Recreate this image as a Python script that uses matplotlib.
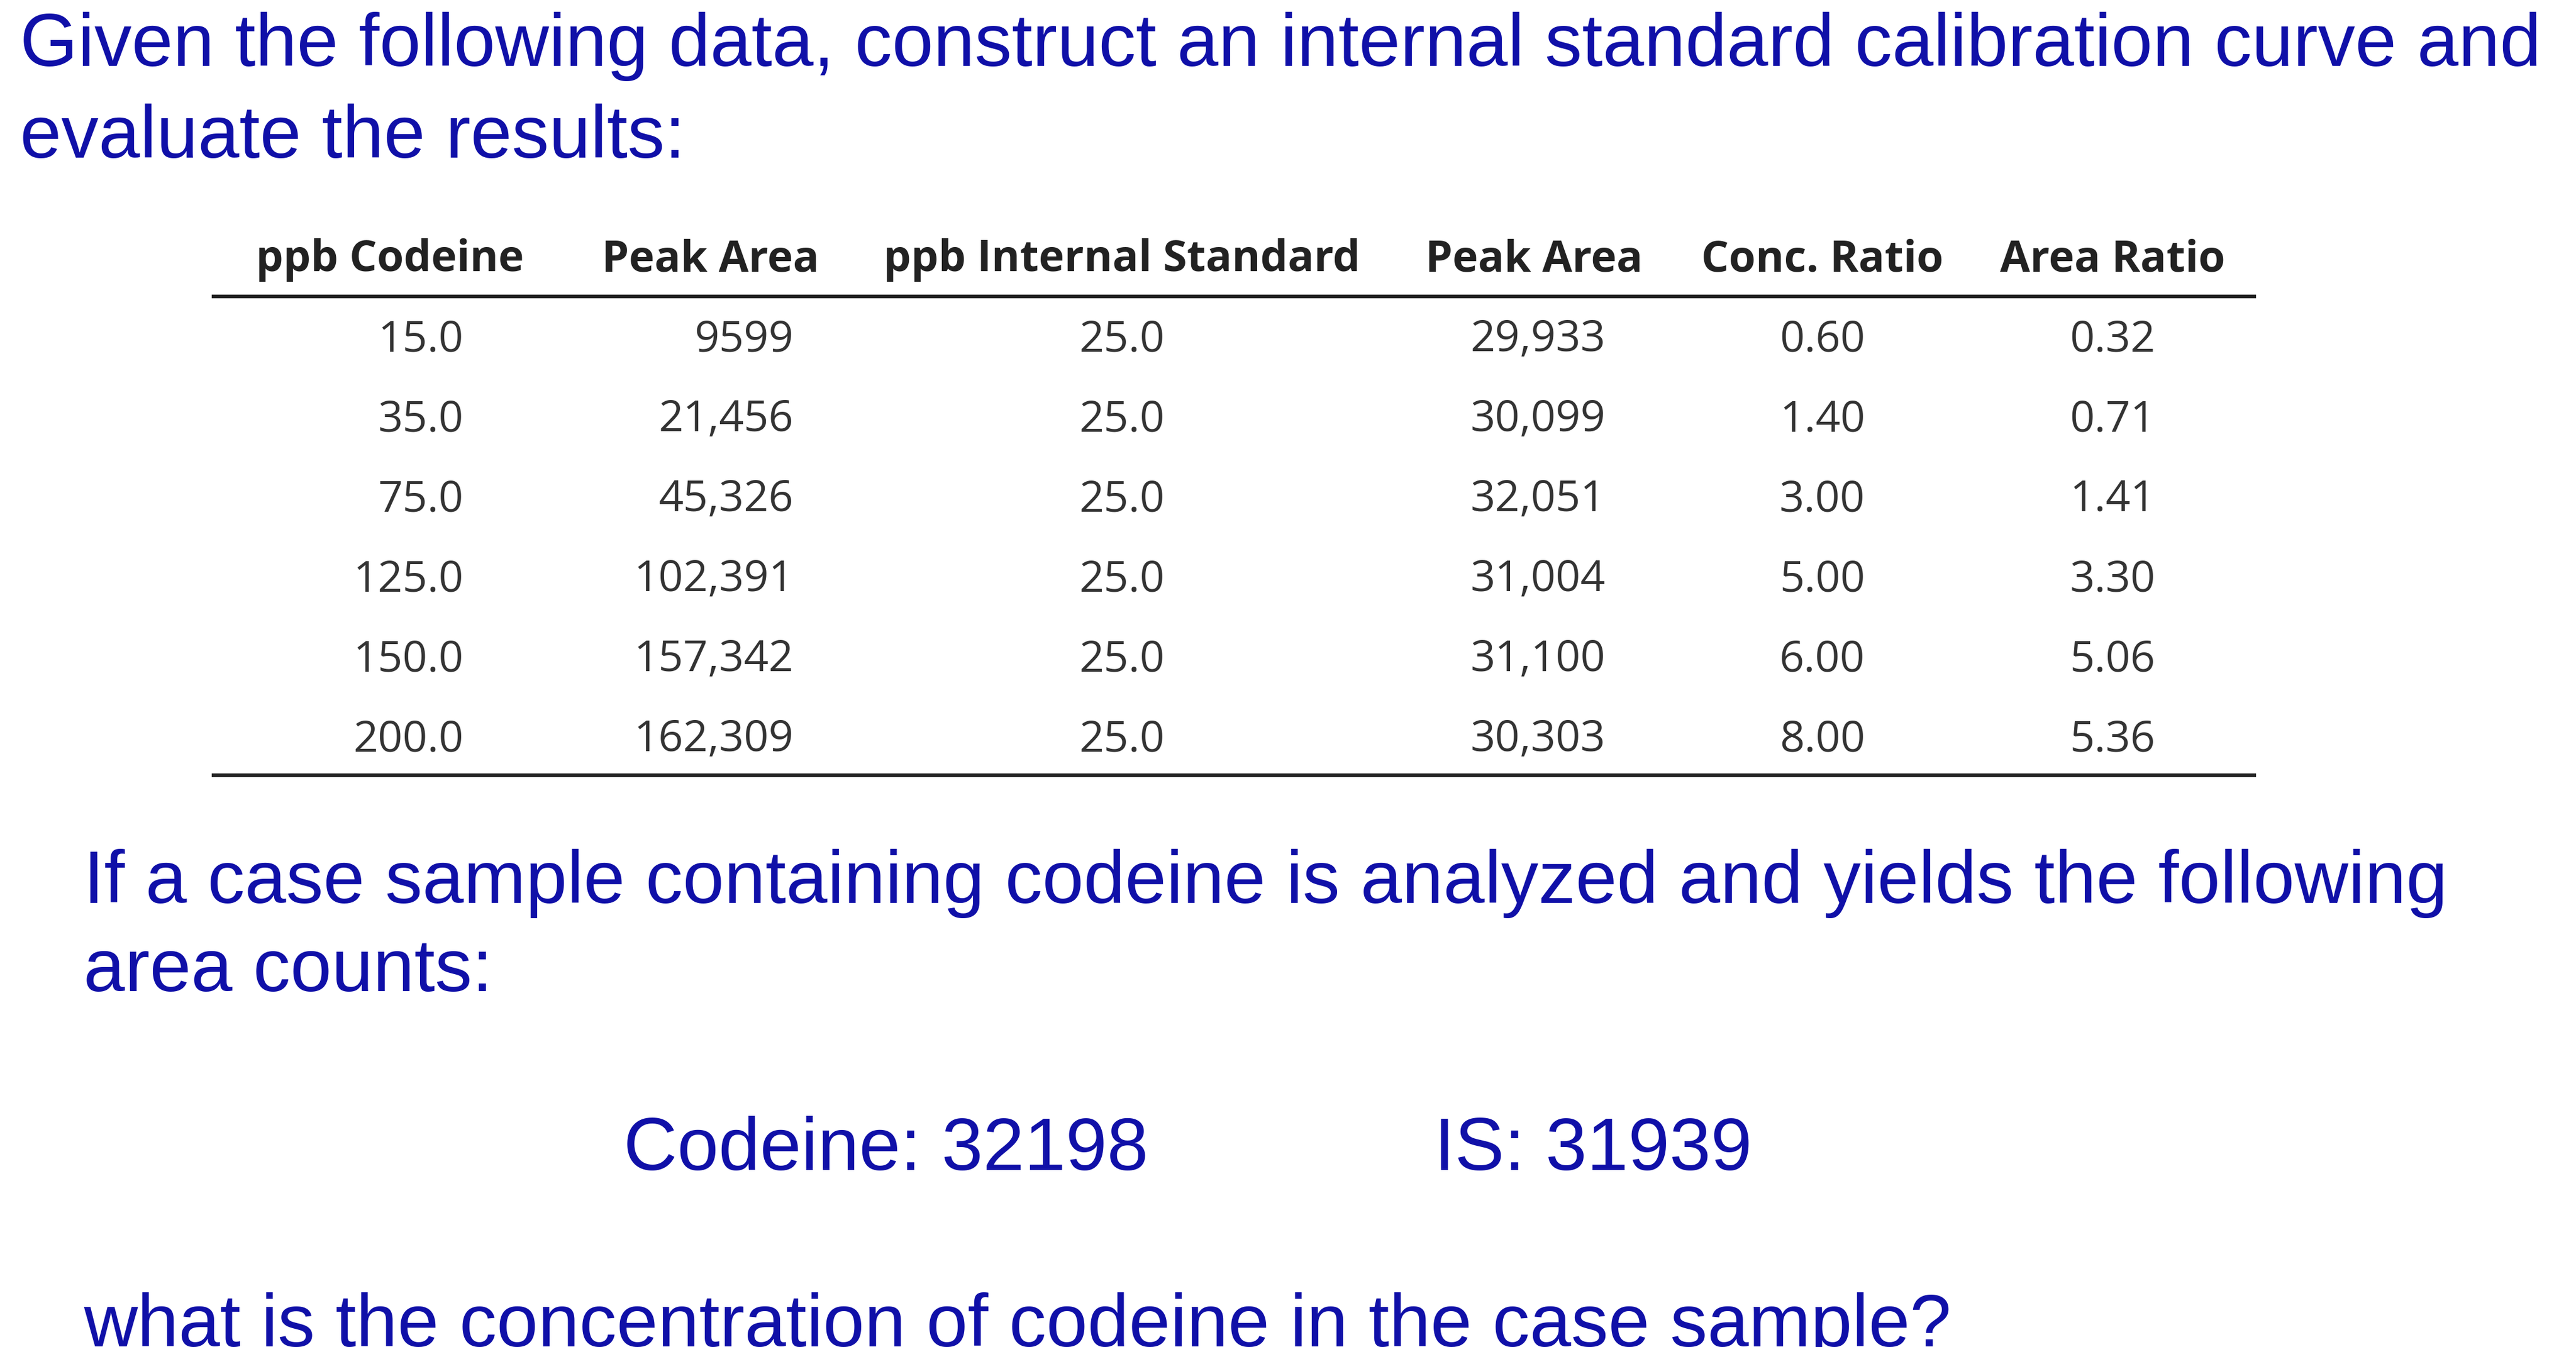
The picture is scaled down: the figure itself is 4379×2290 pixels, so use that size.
import matplotlib
matplotlib.use("Agg")
import matplotlib.pyplot as plt

headers = ["ppb Codeine", "Peak Area", "ppb Internal Standard", "Peak Area", "Conc. Ratio", "Area Ratio"]
ppb_codeine = ["15.0", "35.0", "75.0", "125.0", "150.0", "200.0"]
peak_area_cod = ["9599", "21,456", "45,326", "102,391", "157,342", "162,309"]
ppb_is = ["25.0"] * 6
peak_area_is = ["29,933", "30,099", "32,051", "31,004", "31,100", "30,303"]
conc_ratio = ["0.60", "1.40", "3.00", "5.00", "6.00", "8.00"]
area_ratio = ["0.32", "0.71", "1.41", "3.30", "5.06", "5.36"]
columns = [ppb_codeine, peak_area_cod, ppb_is, peak_area_is, conc_ratio, area_ratio]

W, H = 1545.0, 808.0
fig = plt.figure(figsize=(43.79, 22.90), dpi=100)
fig.patch.set_facecolor("white")

def fx(x): return x / W
def fy(y): return 1 - y / H

blue = "#1010a8"
tf = "Liberation Sans"
FS = 91
fig.text(fx(12), fy(28), "Given the following data, construct an internal standard calibration curve and",
         fontsize=FS, color=blue, family=tf, va="center", ha="left")
fig.text(fx(12), fy(83), "evaluate the results:", fontsize=FS, color=blue, family=tf, va="center", ha="left")

hdr_x = [234, 426, 673, 920, 1093, 1267]
dat_x = [278, 476, 673, 963, 1093, 1267]
dat_ha = ["right", "right", "center", "right", "center", "center"]
row_y = [204, 252, 300, 348, 396, 444]
tbf = "Open Sans"
for hx, h in zip(hdr_x, headers):
    fig.text(fx(hx), fy(156), h, fontsize=53, fontweight="bold", color="#222222",
             family=tbf, ha="center", va="center")
for x, ha, col in zip(dat_x, dat_ha, columns):
    for y, v in zip(row_y, col):
        fig.text(fx(x), fy(y), v, fontsize=53, color="#333333", family=tbf, ha=ha, va="center")

for ly in (178, 465):
    fig.add_artist(plt.Line2D([fx(128), fx(1352)], [fy(ly), fy(ly)], color="#222222", lw=4.5))

fig.text(fx(50), fy(530), "If a case sample containing codeine is analyzed and yields the following",
         fontsize=FS, color=blue, family=tf, va="center", ha="left")
fig.text(fx(50), fy(583), "area counts:", fontsize=FS, color=blue, family=tf, va="center", ha="left")
fig.text(fx(374), fy(690), "Codeine: 32198", fontsize=FS, color=blue, family=tf, va="center", ha="left")
fig.text(fx(860), fy(690), "IS: 31939", fontsize=FS, color=blue, family=tf, va="center", ha="left")
fig.text(fx(50), fy(796), "what is the concentration of codeine in the case sample?",
         fontsize=FS, color=blue, family=tf, va="center", ha="left")

fig.savefig("out.png", dpi=100, facecolor="white")
